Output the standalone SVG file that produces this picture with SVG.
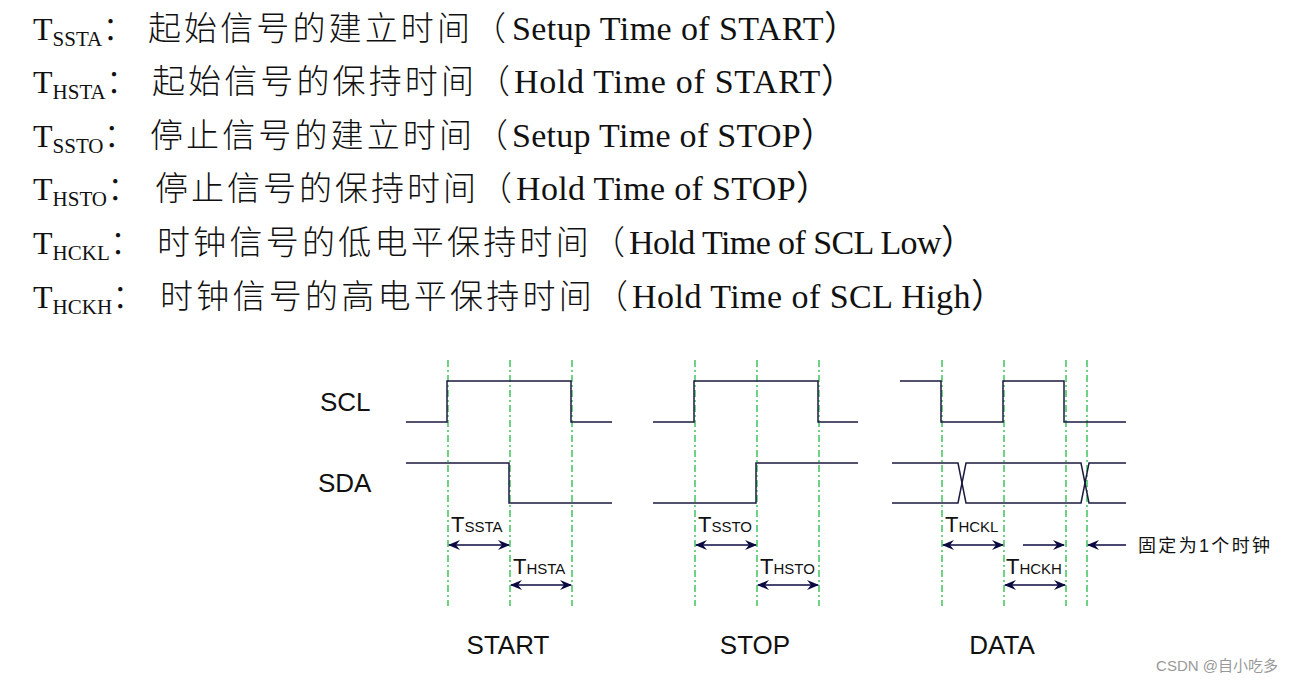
<svg xmlns="http://www.w3.org/2000/svg" width="1291" height="685" viewBox="0 0 1291 685">
<style>
.h{font-family:"Liberation Serif","Noto Sans CJK SC",serif;font-size:32px;fill:#111}
.c{font-family:"Noto Sans CJK SC",sans-serif;font-size:33px;font-weight:300}
.e{font-size:34px}
.s{font-size:21px}
.w{fill:none;stroke:#1a1a40;stroke-width:1.5}
.g{stroke:#22bb44;stroke-width:1.3;stroke-dasharray:7,3,2,3}
.a{stroke:#0a0a40;stroke-width:1.5;fill:none}
.l{font-family:"Liberation Sans",Arial,sans-serif;fill:#111}
</style>
<defs>
<marker id="ar" markerWidth="12" markerHeight="10" refX="11" refY="5" orient="auto-start-reverse" markerUnits="userSpaceOnUse"><path d="M0,0 L12,5 L0,10 L4,5z" fill="#0a0a40"/></marker>
</defs>
<rect width="1291" height="685" fill="#fff"/>
<g id="legend">
<text class="h" x="33" y="40">T<tspan class="s" dy="6">SSTA</tspan><tspan class="c" dy="-6">：</tspan><tspan class="c" x="148" textLength="358" lengthAdjust="spacing">起始信号的建立时间（</tspan><tspan class="e" x="512" textLength="346" lengthAdjust="spacing">Setup Time of START）</tspan></text>
<text class="h" x="33" y="93">T<tspan class="s" dy="6">HSTA</tspan><tspan class="c" dy="-6">：</tspan><tspan class="c" x="152" textLength="358" lengthAdjust="spacing">起始信号的保持时间（</tspan><tspan class="e" x="514" textLength="341" lengthAdjust="spacing">Hold Time of START）</tspan></text>
<text class="h" x="33" y="147">T<tspan class="s" dy="6">SSTO</tspan><tspan class="c" dy="-6">：</tspan><tspan class="c" x="150" textLength="358" lengthAdjust="spacing">停止信号的建立时间（</tspan><tspan class="e" x="512" textLength="323" lengthAdjust="spacing">Setup Time of STOP）</tspan></text>
<text class="h" x="33" y="200">T<tspan class="s" dy="6">HSTO</tspan><tspan class="c" dy="-6">：</tspan><tspan class="c" x="155" textLength="357" lengthAdjust="spacing">停止信号的保持时间（</tspan><tspan class="e" x="516" textLength="314" lengthAdjust="spacing">Hold Time of STOP）</tspan></text>
<text class="h" x="33" y="254">T<tspan class="s" dy="6">HCKL</tspan><tspan class="c" dy="-6">：</tspan><tspan class="c" x="157" textLength="468" lengthAdjust="spacing">时钟信号的低电平保持时间（</tspan><tspan class="e" x="629" textLength="346" lengthAdjust="spacing">Hold Time of SCL Low）</tspan></text>
<text class="h" x="33" y="308">T<tspan class="s" dy="6">HCKH</tspan><tspan class="c" dy="-6">：</tspan><tspan class="c" x="160" textLength="468" lengthAdjust="spacing">时钟信号的高电平保持时间（</tspan><tspan class="e" x="632" textLength="373" lengthAdjust="spacing">Hold Time of SCL High）</tspan></text>
</g>
<g id="labels" class="l" font-size="26">
<text x="320" y="411">SCL</text>
<text x="318" y="492">SDA</text>
<text x="508" y="654" text-anchor="middle">START</text>
<text x="755" y="654" text-anchor="middle">STOP</text>
<text x="1002" y="654" text-anchor="middle">DATA</text>
</g>
<g id="guides">
<line class="g" x1="448" y1="360" x2="448" y2="606"/><line class="g" x1="510" y1="360" x2="510" y2="606"/><line class="g" x1="572" y1="360" x2="572" y2="606"/>
<line class="g" x1="695" y1="360" x2="695" y2="606"/><line class="g" x1="757" y1="360" x2="757" y2="606"/><line class="g" x1="819" y1="360" x2="819" y2="606"/>
<line class="g" x1="942" y1="360" x2="942" y2="606"/><line class="g" x1="1004" y1="360" x2="1004" y2="606"/><line class="g" x1="1066" y1="360" x2="1066" y2="606"/><line class="g" x1="1087" y1="360" x2="1087" y2="606"/>
</g>
<g id="waves">
<path class="w" d="M406,422H447V381H571V422H612"/>
<path class="w" d="M406,463H509V503H612"/>
<path class="w" d="M653,422H694V381H818V422H858"/>
<path class="w" d="M653,503H756V463H858"/>
<path class="w" d="M900,381H941V422H1003V381H1064V422H1126"/>
<path class="w" d="M892,463H958L966,503H1081L1089,463H1126"/>
<path class="w" d="M892,503H958L966,463H1081L1089,503H1126"/>
</g>
<g id="connectors">
<line class="a" x1="449" y1="545" x2="509" y2="545" marker-start="url(#ar)" marker-end="url(#ar)"/>
<line class="a" x1="511" y1="585" x2="571" y2="585" marker-start="url(#ar)" marker-end="url(#ar)"/>
<line class="a" x1="696" y1="545" x2="756" y2="545" marker-start="url(#ar)" marker-end="url(#ar)"/>
<line class="a" x1="758" y1="585" x2="818" y2="585" marker-start="url(#ar)" marker-end="url(#ar)"/>
<line class="a" x1="943" y1="545" x2="1003" y2="545" marker-start="url(#ar)" marker-end="url(#ar)"/>
<line class="a" x1="1005" y1="585" x2="1065" y2="585" marker-start="url(#ar)" marker-end="url(#ar)"/>
<line class="a" x1="1023" y1="545" x2="1064" y2="545" marker-end="url(#ar)"/>
<line class="a" x1="1126" y1="545" x2="1088" y2="545" marker-end="url(#ar)"/>
</g>
<g id="timelabels" class="l" font-size="22">
<text x="451" y="532">T<tspan font-size="15">SSTA</tspan></text>
<text x="513" y="574">T<tspan font-size="15">HSTA</tspan></text>
<text x="698" y="532">T<tspan font-size="15">SSTO</tspan></text>
<text x="760" y="574">T<tspan font-size="15">HSTO</tspan></text>
<text x="945" y="532">T<tspan font-size="15">HCKL</tspan></text>
<text x="1006" y="574">T<tspan font-size="15">HCKH</tspan></text>
<text x="1138" y="552" font-size="18" textLength="132" lengthAdjust="spacing" font-family="Liberation Sans,'Noto Sans CJK SC',sans-serif">固定为1个时钟</text>
</g>
<text x="1278" y="671" text-anchor="end" font-family="Liberation Sans,'Noto Sans CJK SC',sans-serif" font-size="15" fill="#999">CSDN @自小吃多</text>
</svg>
